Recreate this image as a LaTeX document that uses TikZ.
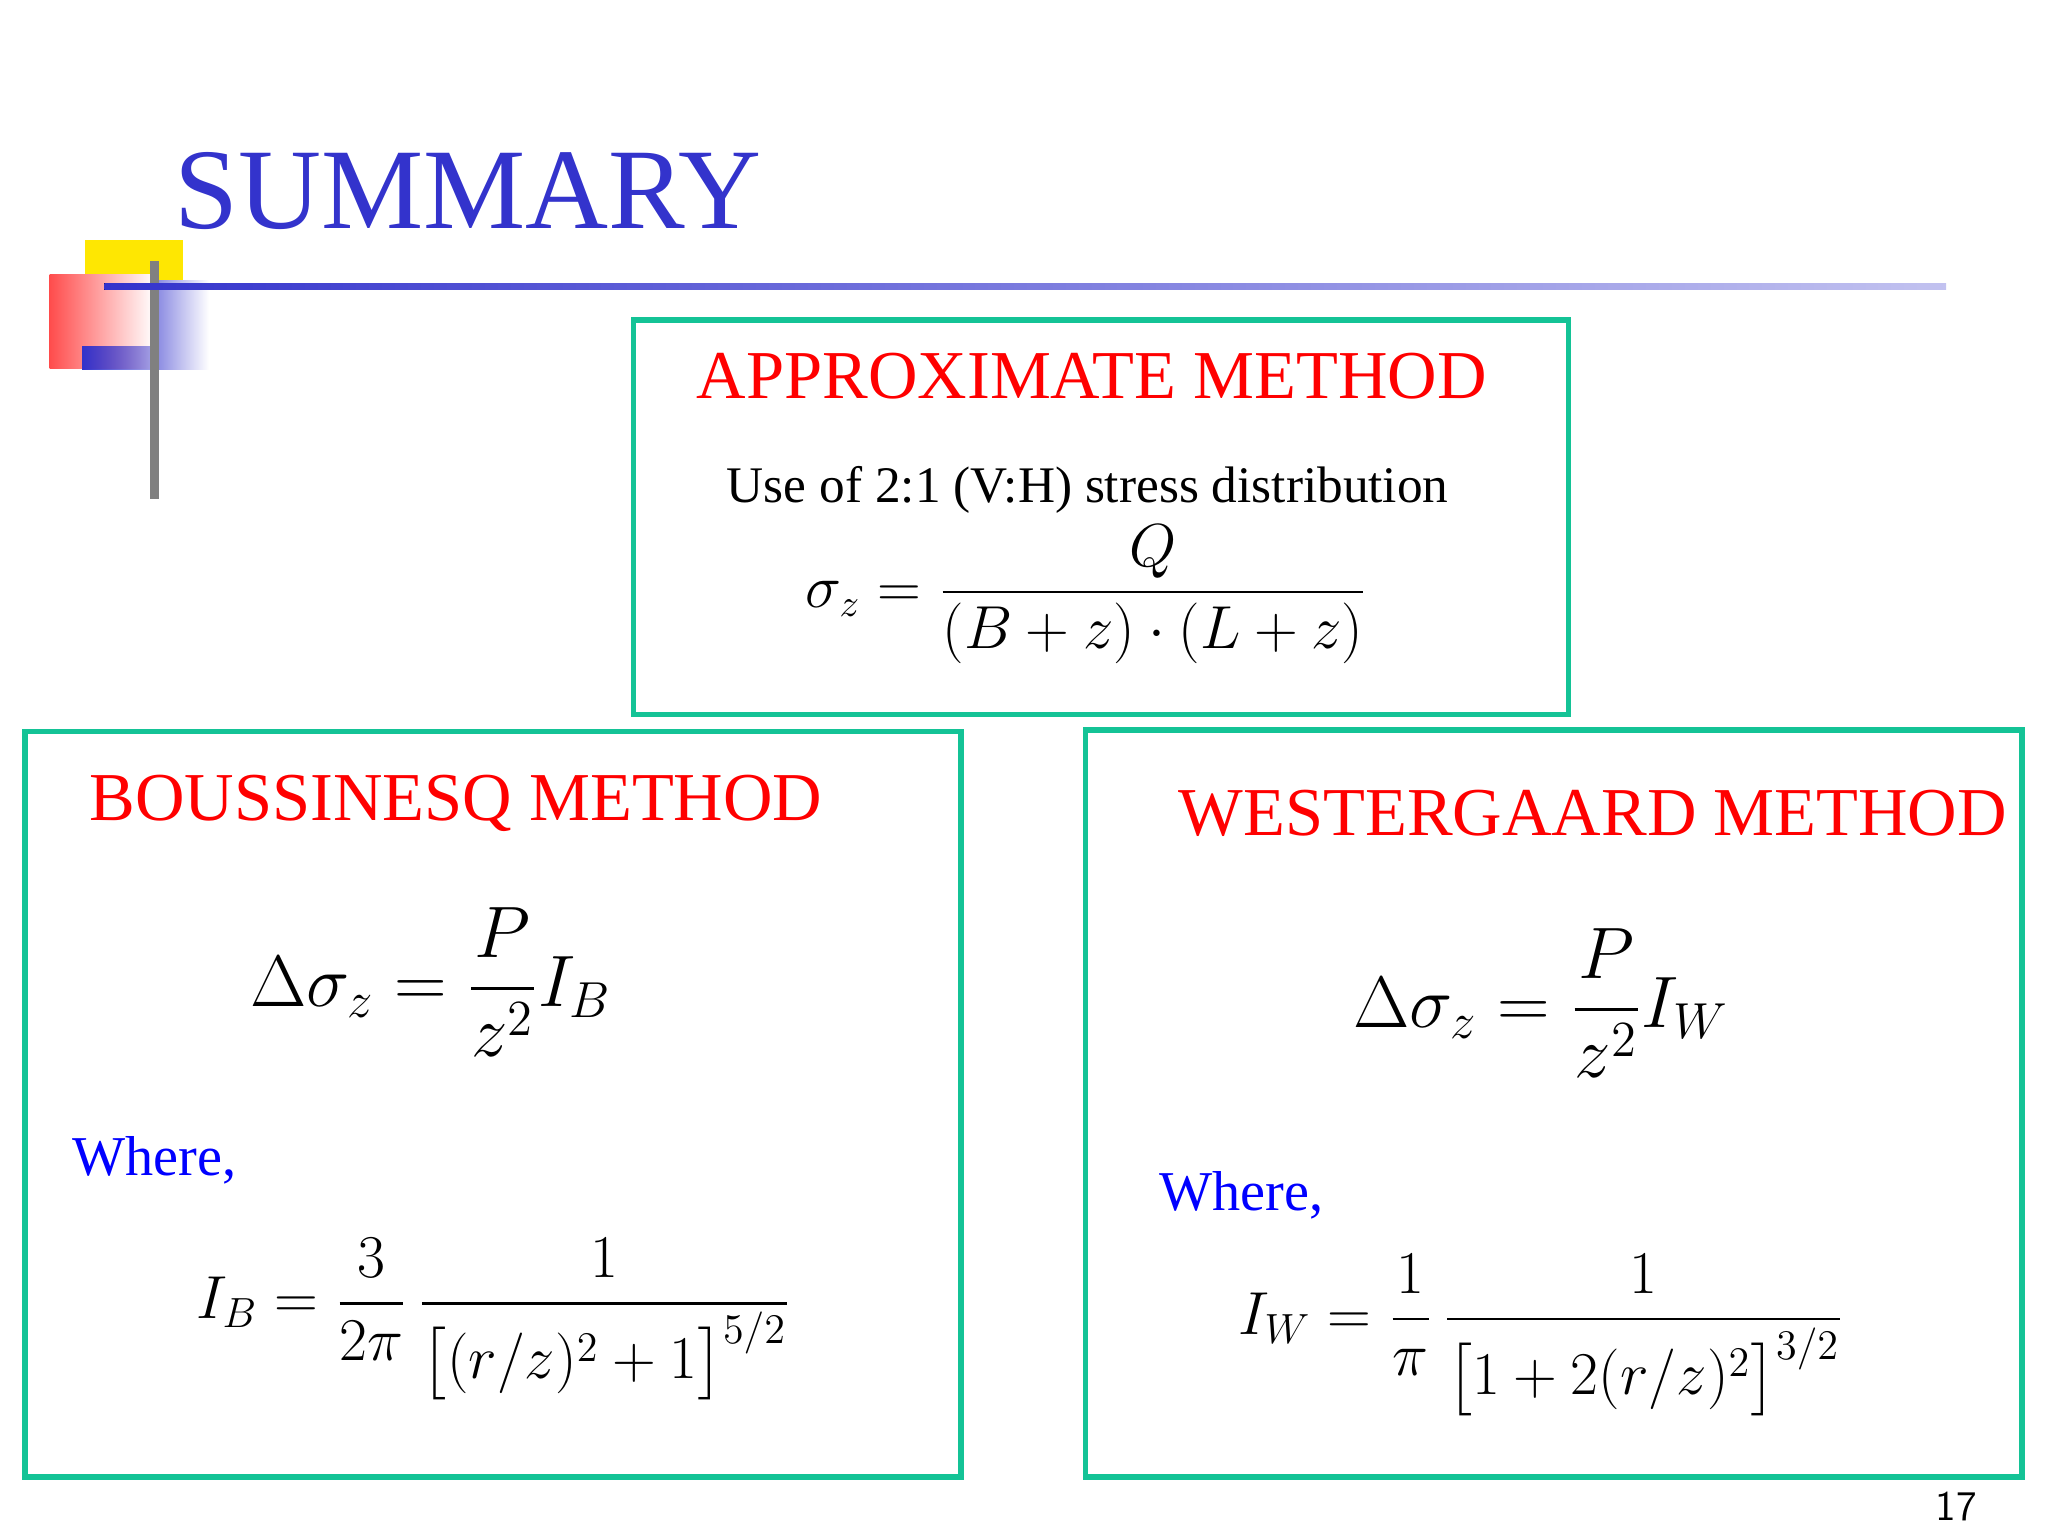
\documentclass[tikz,border=0pt]{standalone}
\usepackage{amsmath}
\usepackage{fontspec}
\setmainfont{Liberation Serif}
\usetikzlibrary{fadings}
\definecolor{teal1}{RGB}{20,195,150}
\definecolor{tblue}{RGB}{51,51,204}
\tikzset{box/.style={draw=teal1,line width=1.6pt},
 head/.style={text=red,font=\fontsize{19.5}{23}\selectfont,anchor=west,inner sep=0},
 eq/.style={font=\fontsize{20}{24}\selectfont,inner sep=0},
 eqb/.style={font=\fontsize{18}{22}\selectfont,inner sep=0},
 wh/.style={text=blue,font=\fontsize{16}{19}\selectfont,anchor=west,inner sep=0}}
\begin{document}
\begin{tikzpicture}[x=0.013061cm,y=-0.013061cm]
\useasboundingbox (0,0) rectangle (1568,1176);
% decoration
\fill[yellow!90!orange] (65,184) rectangle (140,245);
\fill[left color=red!70,right color=white] (38,210) rectangle (118,282);
\fill[tblue,path fading=east] (63,265) rectangle (160,283);
\fill[left color=tblue!60,right color=white] (118,215) rectangle (160,283);
\draw[gray,line width=2.5pt] (118,200) -- (118,382);
\fill[left color=tblue,right color=tblue!30] (80,217) rectangle (1490,222);
\node[text=tblue,font=\fontsize{32.7}{36}\selectfont,anchor=west,inner sep=0] (t) at (133,146) {SUMMARY};
% boxes
\draw[box] (485,245) rectangle (1201,547);
\draw[box] (19,560) rectangle (736,1131);
\draw[box] (831,559) rectangle (1548,1131);
\node[head] (h1) at (533,288) {APPROXIMATE METHOD};
\node[font=\fontsize{14.6}{17}\selectfont,anchor=west,inner sep=0] (u) at (556,375) {Use of 2:1 (V:H) stress distribution};
\node[eq,font=\fontsize{16}{19}\selectfont] (e1) at (832,455) {$\sigma_z=\dfrac{Q}{(B+z)\cdot(L+z)}$};
\node[head] (h2) at (68,615) {BOUSSINESQ METHOD};
\node[eq] (e2) at (330,752) {$\Delta\sigma_z=\dfrac{P}{z^2}I_B$};
\node[wh] (w1) at (55,888) {Where,};
\node[eqb] (e3) at (378,1010) {$I_B=\dfrac{3}{2\pi}\,\dfrac{1}{\bigl[(r/z)^2+1\bigr]^{5/2}}$};
\node[head] (h3) at (902,623) {WESTERGAARD METHOD};
\node[eq] (e4) at (1180,768) {$\Delta\sigma_z=\dfrac{P}{z^2}I_W$};
\node[wh] (w2) at (887,915) {Where,};
\node[eqb] (e5) at (1180,1022) {$I_W=\dfrac{1}{\pi}\,\dfrac{1}{\bigl[1+2(r/z)^2\bigr]^{3/2}}$};
\node[font=\sffamily\fontsize{12}{14}\selectfont,inner sep=0] (n) at (1498,1153) {17};
\end{tikzpicture}
\end{document}
